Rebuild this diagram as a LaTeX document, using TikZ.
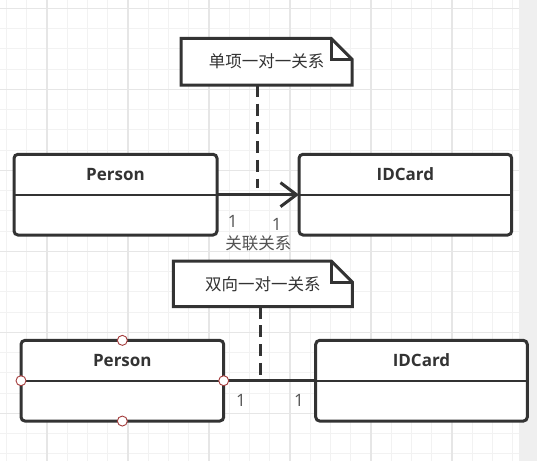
\documentclass[tikz,border=0pt]{standalone}
\usepackage{fontspec}
\setmainfont{Open Sans}
\newfontfamily\cjk{Noto Sans CJK SC}
\usetikzlibrary{arrows.meta,calc}
\definecolor{ink}{HTML}{333333}
\definecolor{gridminor}{HTML}{F2F2F2}
\definecolor{gridmajor}{HTML}{E6E6E6}
\definecolor{sidebar}{HTML}{EFEFEF}
\definecolor{handlered}{HTML}{A33A3A}
\tikzstyle{classbox}=[draw=ink, fill=white, line width=3pt, rounded corners=4pt, minimum height=80.7pt, outer sep=0pt, inner sep=0pt]
\tikzstyle{classname}=[font=\fontsize{17}{20}\selectfont\bfseries, text=ink]
\tikzstyle{notebox}=[outer sep=0pt, inner sep=0pt, font=\cjk\fontsize{16.5}{20}\selectfont, text=ink]
\tikzstyle{notelink}=[draw=ink, line width=3pt, dash pattern=on 12pt off 6.7pt]
\tikzstyle{assoc}=[draw=ink, line width=3pt]
\tikzstyle{multlabel}=[font=\fontsize{17}{20}\selectfont, text=ink!85]
\tikzstyle{handle}=[circle, draw=handlered, fill=white, line width=0.9pt, minimum size=10pt, inner sep=0pt]

\begin{document}
\begin{tikzpicture}[x=1pt, y=-1pt]
    \useasboundingbox (0,0) rectangle (537,461);
    \fill[white] (0,0) rectangle (537,461);
% Grid
    \foreach \k in {0,...,25}
        \draw[gridminor, line width=1pt] ({6.5+20.25*\k},0) -- ++(0,461);
    \foreach \k in {0,...,22}
        \draw[gridminor, line width=1pt] (0,{8.3+20.25*\k}) -- ++(519,0);
    \foreach \k in {2,6,...,22}
        \draw[gridmajor, line width=1.2pt] ({6.5+20.25*\k},0) -- ++(0,461);
    \foreach \k in {0,4,...,20}
        \draw[gridmajor, line width=1.2pt] (0,{8.3+20.25*\k}) -- ++(519,0);
    \fill[sidebar] (519,0) rectangle (537,461);
% Classes
    \node[classbox, minimum width=203pt] (p1) at (115.5,194.65) {};
    \node[classbox, minimum width=212.7pt] (i1) at (405.35,194.65) {};
    \node[classbox, minimum width=202.7pt] (p2) at (122.35,380.7) {};
    \node[classbox, minimum width=211.6pt] (i2) at (421.5,380.7) {};
    \foreach \c/\t in {p1/Person, i1/IDCard, p2/Person, i2/IDCard} {
        \draw[ink, line width=2.2pt] (\c.west) -- (\c.east);
        \node[classname] (\c name) at ($(\c.north)!0.5!(\c.center)$) {\t};
    }
% Notes
    \node[notebox, minimum width=171pt, minimum height=46.7pt] (n1) at (266.5,61.65) {};
    \node[notebox, minimum width=179pt, minimum height=45.7pt] (n2) at (262.8,283.85) {};
    \foreach \n/\t in {n1/单项一对一关系, n2/双向一对一关系} {
        \filldraw[draw=ink, fill=white, line width=3pt] (\n.north west) -- ($(\n.north east)+(-21,0)$)
            -- ($(\n.north east)+(0,21)$) -- (\n.south east) -- (\n.south west) -- cycle;
        \draw[ink, line width=3pt] ($(\n.north east)+(-21,0)$) -- ($(\n.north east)+(-21,21)$)
            -- ($(\n.north east)+(0,21)$);
        \node[notebox] (\n text) at (\n.center) {\t};
    }
% Links
    \coordinate (d1) at (257.5,188);
    \coordinate (d2) at (260,376.7);
    \draw[notelink] (n1.south -| d1) -- (d1);
    \draw[notelink] (n2.south -| d2) -- (d2);
    \draw[assoc, -{Straight Barb[length=16pt, width=24pt]}] (p1.east) -- (i1.west);
    \draw[assoc] (p2.east) -- (i2.west);
    \foreach \a in {north,west,east,south}
        \node[handle] (h\a) at (p2.\a) {};
% Labels
    \node[multlabel] (m1) at (232.7,221) {1};
    \node[multlabel] (m2) at (276.7,224.3) {1};
    \node[multlabel, font=\cjk\fontsize{16.5}{20}\selectfont] (r1) at (258.3,243.3) {关联关系};
    \node[multlabel] (m3) at (241,400.7) {1};
    \node[multlabel] (m4) at (299,400.7) {1};
\end{tikzpicture}
\end{document}
